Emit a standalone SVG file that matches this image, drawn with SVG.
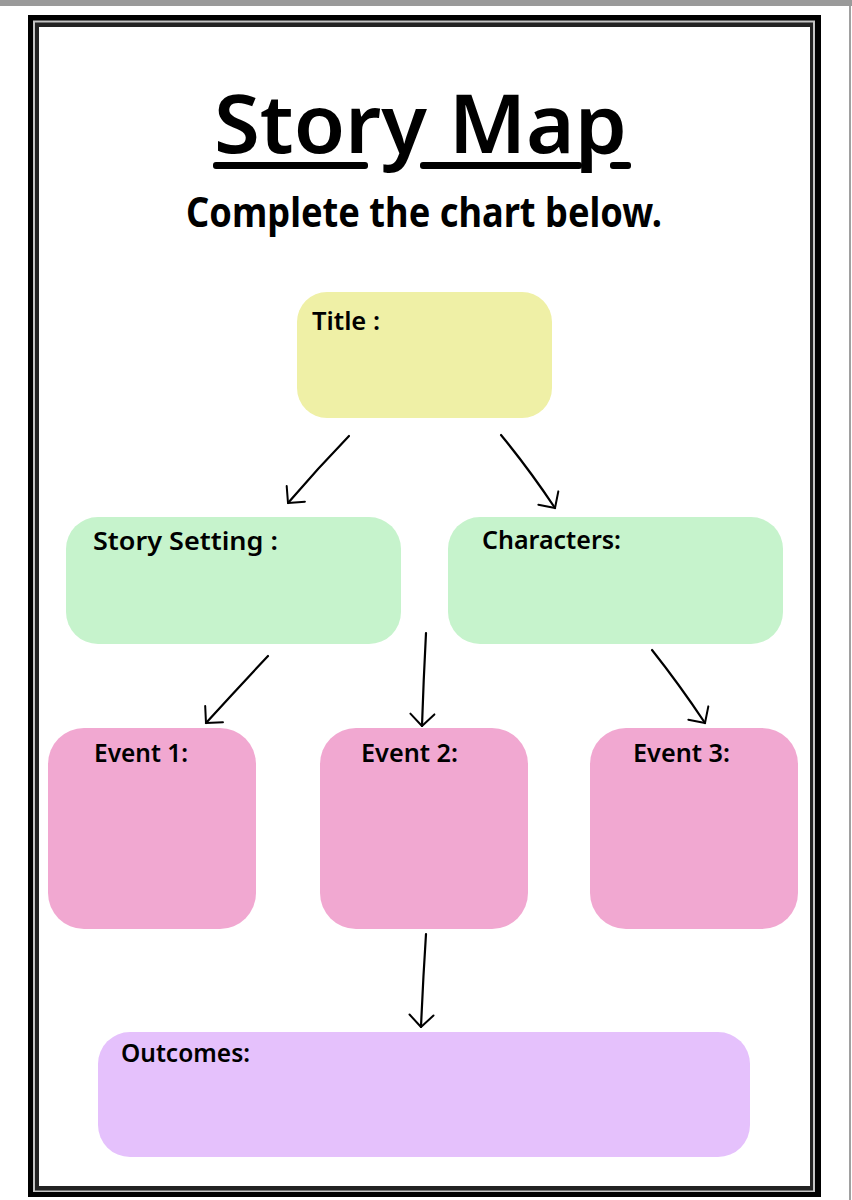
<svg xmlns="http://www.w3.org/2000/svg" width="852" height="1200" viewBox="0 0 852 1200">
  <defs>
    <marker id="head" markerUnits="userSpaceOnUse" markerWidth="30" markerHeight="30" refX="15" refY="15" orient="auto" viewBox="0 0 30 30">
      <path d="M3 3 L15 15 L3 27" fill="none" stroke="#000" stroke-width="2" stroke-linecap="round" stroke-linejoin="round"/>
    </marker>
  </defs>
  <style>
    .lbl { font-family: "Noto Sans", "DejaVu Sans", sans-serif; font-weight: 600; font-size: 26px; fill: #000; }
    .conn { fill: none; stroke: #000; stroke-width: 2.2; stroke-linecap: round; marker-end: url(#head); }
    .yellow { fill: #eff0a6; }
    .green { fill: #c6f3cc; }
    .pink { fill: #f1a8d1; }
    .purple { fill: #e5c1fc; }
  </style>

  <!-- page -->
  <rect x="0" y="0" width="852" height="1200" fill="#ffffff"/>
  <rect x="0" y="0" width="852" height="6" fill="#9a9a9a"/>
  <rect x="849" y="6" width="2" height="1194" fill="#a0a0a0"/>

  <!-- border -->
  <g id="border">
    <rect x="28" y="15" width="793" height="1182" fill="#000"/>
    <rect x="33" y="20.5" width="782" height="1171.5" fill="#c4c4c4"/>
    <rect x="35" y="22.5" width="778" height="1168" fill="#222"/>
    <rect x="39" y="27" width="771" height="1159" fill="#fff"/>
  </g>

  <!-- heading -->
  <g id="heading">
    <text x="214" y="153" font-family="'Noto Sans', 'DejaVu Sans', sans-serif" font-size="82" font-weight="600" textLength="413" lengthAdjust="spacingAndGlyphs">Story Map</text>
    <rect x="213" y="162" width="155" height="7" rx="3" fill="#000"/>
    <rect x="420" y="162" width="162" height="7" rx="3" fill="#000"/>
    <rect x="610" y="162" width="21" height="7" rx="3" fill="#000"/>
    <text x="186" y="227" font-family="'Noto Sans', 'DejaVu Sans', sans-serif" font-size="41" font-weight="700" textLength="476" lengthAdjust="spacingAndGlyphs">Complete the chart below.</text>
  </g>

  <!-- nodes -->
  <g id="node-title">
    <rect class="yellow" x="297" y="292" width="255" height="126" rx="30"/>
    <text class="lbl" x="312" y="330" textLength="68" lengthAdjust="spacingAndGlyphs">Title :</text>
  </g>
  <g id="node-setting">
    <rect class="green" x="66" y="517" width="335" height="127" rx="32"/>
    <text class="lbl" x="93" y="550" textLength="185" lengthAdjust="spacingAndGlyphs">Story Setting :</text>
  </g>
  <g id="node-characters">
    <rect class="green" x="448" y="517" width="335" height="127" rx="32"/>
    <text class="lbl" x="482" y="549" textLength="139" lengthAdjust="spacingAndGlyphs">Characters:</text>
  </g>
  <g id="node-event1">
    <rect class="pink" x="48" y="728" width="208" height="201" rx="36"/>
    <text class="lbl" x="94" y="762" textLength="94" lengthAdjust="spacingAndGlyphs">Event 1:</text>
  </g>
  <g id="node-event2">
    <rect class="pink" x="320" y="728" width="208" height="201" rx="36"/>
    <text class="lbl" x="361" y="762" textLength="97" lengthAdjust="spacingAndGlyphs">Event 2:</text>
  </g>
  <g id="node-event3">
    <rect class="pink" x="590" y="728" width="208" height="201" rx="36"/>
    <text class="lbl" x="633" y="762" textLength="97" lengthAdjust="spacingAndGlyphs">Event 3:</text>
  </g>
  <g id="node-outcomes">
    <rect class="purple" x="98" y="1032" width="652" height="125" rx="32"/>
    <text class="lbl" x="121" y="1062" textLength="129" lengthAdjust="spacingAndGlyphs">Outcomes:</text>
  </g>

  <!-- connectors -->
  <g id="connectors">
    <path class="conn" d="M349 436 Q318 468 288 503"/>
    <path class="conn" d="M501 435 Q529 469 555 508"/>
    <path class="conn" d="M268 656 Q236 690 206 723"/>
    <path class="conn" d="M426 633 Q423.5 680 422 726"/>
    <path class="conn" d="M652 650 Q679 684 705 723"/>
    <path class="conn" d="M426 934 Q423 980 421 1027"/>
  </g>
</svg>
